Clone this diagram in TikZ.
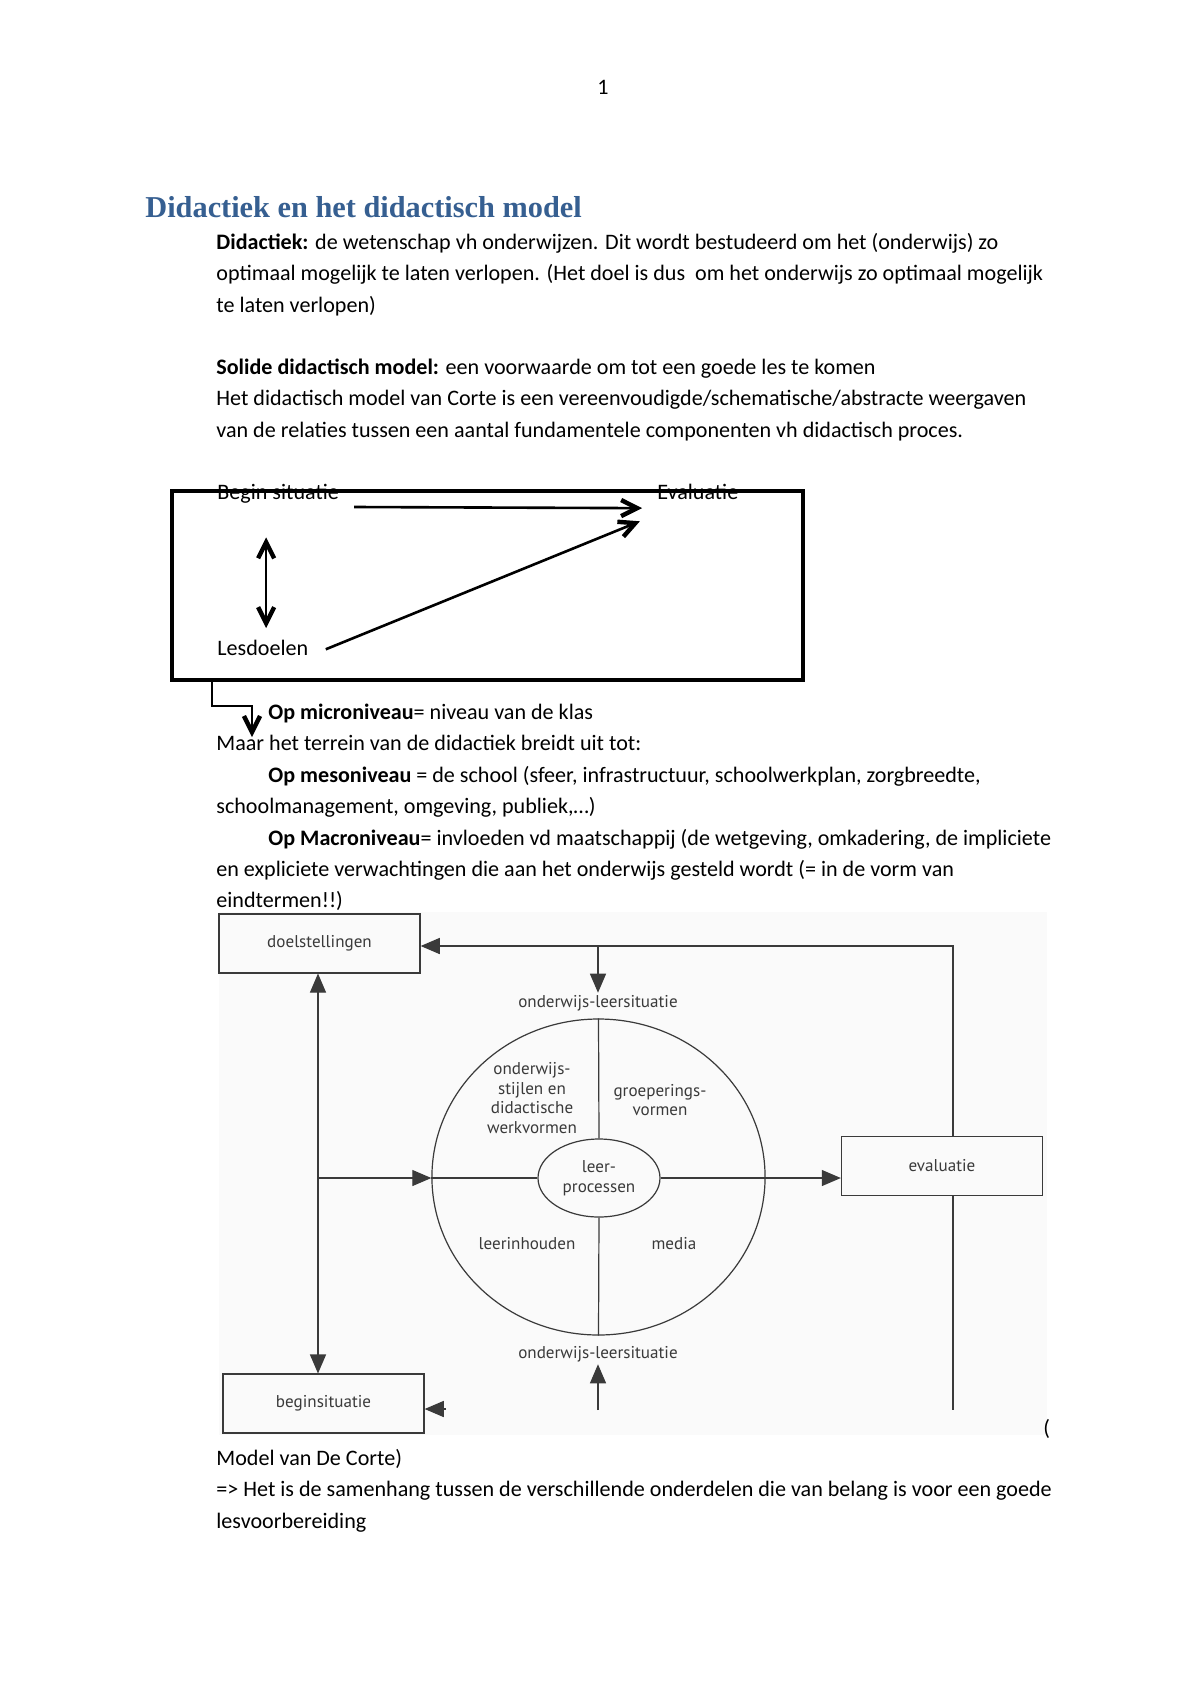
\documentclass[tikz,border=0pt]{standalone}
\usepackage{fontspec}
\setmainfont{Carlito}
\newfontfamily\kopfont{Liberation Serif}
\newfontfamily\schemafont{PT Sans}
\usetikzlibrary{arrows.meta,shapes.geometric}
\definecolor{kopblauw}{HTML}{365F91}
\definecolor{schemagrijs}{HTML}{3A3A3A}
\definecolor{schemavlak}{HTML}{FAFAFA}
\begin{document}
\begin{tikzpicture}[x=0.175mm,y=-0.175mm,
    tekst/.style={anchor=base west,inner sep=0pt,font=\fontsize{11}{13}\selectfont},
    chev/.tip={Straight Barb[length=8pt,width=8pt,line width=2.2pt]},
    tri/.tip={Triangle[length=9.5pt,width=8pt]},
    dun/.style={line width=1.3pt},
    lijn/.style={draw=schemagrijs,line width=0.6pt},
    schemabox/.style={draw=schemagrijs,line width=0.6pt,minimum width=35.2mm,minimum height=10.3mm,inner sep=0pt,text=schemagrijs,font=\schemafont\fontsize{8.5}{9.9}\selectfont},
    schematekst/.style={inner sep=1pt,text=schemagrijs,align=center,font=\schemafont\fontsize{8.5}{9.9}\selectfont}]

    \useasboundingbox (0,0) rectangle (1200,1698);
    \fill[white] (0,0) rectangle (1200,1698);

    \node[anchor=base,inner sep=0pt,font=\fontsize{11}{13}\selectfont] (paginanr) at (603,94) {1};
    \node[anchor=base west,inner sep=0pt,text=kopblauw,font=\kopfont\bfseries\fontsize{15.1}{18}\selectfont] (kop) at (145,217) {Didactiek en het didactisch model};

    \node[tekst] (r1) at (216,249) {\textbf{Didactiek:} de wetenschap vh onderwijzen. Dit wordt bestudeerd om het (onderwijs) zo};
    \node[tekst] (r2) at (216,280.5) {optimaal mogelijk te laten verlopen. (Het doel is dus \ om het onderwijs zo optimaal mogelijk};
    \node[tekst] (r3) at (216,312) {te laten verlopen)};
    \node[tekst] (r4) at (216,374) {\textbf{Solide didactisch model:} een voorwaarde om tot een goede les te komen};
    \node[tekst] (r5) at (216,405.5) {Het didactisch model van Corte is een vereenvoudigde/schematische/abstracte weergaven};
    \node[tekst] (r6) at (216,437) {van de relaties tussen een aantal fundamentele componenten vh didactisch proces.};

    \node[tekst] (beginsit) at (217,499) {Begin situatie};
    \node[tekst] (evalsit) at (657,499) {Evaluatie};
    \node[tekst] (lesdoel) at (217,655) {Lesdoelen};
    \node[draw,line width=2pt,minimum width=110.4mm,minimum height=33.1mm,inner sep=0pt] (kader) at (487.5,585.5) {};

    \draw[dun,-chev] ([xshift=2.6mm,yshift=-1.4mm]beginsit.base east) -- ([xshift=-2.6mm,yshift=-1.6mm]evalsit.base west);
    \draw[dun,-chev] ([xshift=3mm,yshift=1mm]lesdoel.base east) -- ([xshift=-3mm,yshift=-3.9mm]evalsit.base west);
    \draw[dun,chev-chev] ([xshift=8.6mm,yshift=-6.7mm]beginsit.base west) -- ([xshift=8.6mm,yshift=4.7mm]lesdoel.base west);

    \coordinate (microknik) at (212,706);
    \coordinate (micropunt) at (252,737);
    \draw[line width=1pt,-chev] (kader.south -| microknik) -- (microknik) -- (micropunt |- microknik) -- (micropunt);

    \node[tekst] (r7) at (268,719) {\textbf{Op microniveau}= niveau van de klas};
    \node[tekst] (r8) at (216,750.5) {Maar het terrein van de didactiek breidt uit tot:};
    \node[tekst] (r9) at (268,782) {\textbf{Op mesoniveau} = de school (sfeer, infrastructuur, schoolwerkplan, zorgbreedte,};
    \node[tekst] (r10) at (216,813.5) {schoolmanagement, omgeving, publiek,…)};
    \node[tekst] (r11) at (268,845) {\textbf{Op Macroniveau}= invloeden vd maatschappij (de wetgeving, omkadering, de impliciete};
    \node[tekst] (r12) at (216,876.5) {en expliciete verwachtingen die aan het onderwijs gesteld wordt (= in de vorm van};
    \node[tekst] (r13) at (216,907) {eindtermen!!)};

    \fill[schemavlak] (219,912) rectangle (1047,1435);
    \node[schemabox] (doel) at (319.5,943.5) {doelstellingen};
    \node[schemabox] (begin) at (323.5,1403.5) {beginsituatie};
    \node[schemabox] (eval) at (942,1166) {evaluatie};
    \node[draw=schemagrijs,line width=0.6pt,ellipse,minimum width=58.3mm,minimum height=55.3mm,inner sep=0pt] (buiten) at (598.5,1177) {};
    \node[draw=schemagrijs,line width=0.6pt,ellipse,minimum width=21.35mm,minimum height=13.65mm,inner sep=0pt,text=schemagrijs,align=center,font=\schemafont\fontsize{8.5}{9.9}\selectfont] (kern) at (599,1178) {leer-\\processen};
    \node[schematekst] (olsboven) at (598,1003) {onderwijs-leersituatie};
    \node[schematekst] (olsonder) at (598,1354) {onderwijs-leersituatie};
    \node[schematekst] (stijlen) at (532,1098) {onderwijs-\\stijlen en\\didactische\\werkvormen};
    \node[schematekst] (groep) at (660,1100) {groeperings-\\vormen};
    \node[schematekst] (inhoud) at (527,1244) {leerinhouden};
    \node[schematekst] (media) at (674,1244) {media};

    \coordinate (hoekrechts) at (953,946);
    \coordinate (splitsboven) at (598,946);
    \coordinate (splitslinks) at (318,1178);
    \coordinate (voetmidden) at (598,1410);
    \coordinate (voetrechts) at (953,1410);
    \coordinate (puntbegin) at (446,1409);

    \draw[lijn,-tri] (eval.north -| hoekrechts) -- (hoekrechts) -- (hoekrechts -| doel.east);
    \draw[lijn,-tri] (splitsboven) -- (olsboven.north);
    \draw[lijn,tri-tri] (doel.south -| splitslinks) -- (begin.north -| splitslinks);
    \draw[lijn,-tri] (splitslinks) -- (splitslinks -| buiten.west);
    \draw[lijn] (splitslinks -| buiten.west) -- (kern.west);
    \draw[lijn,-tri] (kern.east) -- (kern.east -| eval.west);
    \draw[lijn] (buiten.north) -- (kern.north);
    \draw[lijn] (kern.south) -- (buiten.south);
    \draw[lijn,-tri] (voetmidden) -- (olsonder.south);
    \draw[lijn] (eval.south -| voetrechts) -- (voetrechts);
    \draw[lijn,-tri] (puntbegin) -- (puntbegin -| begin.east);

    \node[tekst] (haakje) at (1043,1435) {(};
    \node[tekst] (r14) at (216,1465) {Model van De Corte)};
    \node[tekst] (r15) at (216,1496.5) {=> Het is de samenhang tussen de verschillende onderdelen die van belang is voor een goede};
    \node[tekst] (r16) at (216,1528) {lesvoorbereiding};

\end{tikzpicture}
\end{document}
